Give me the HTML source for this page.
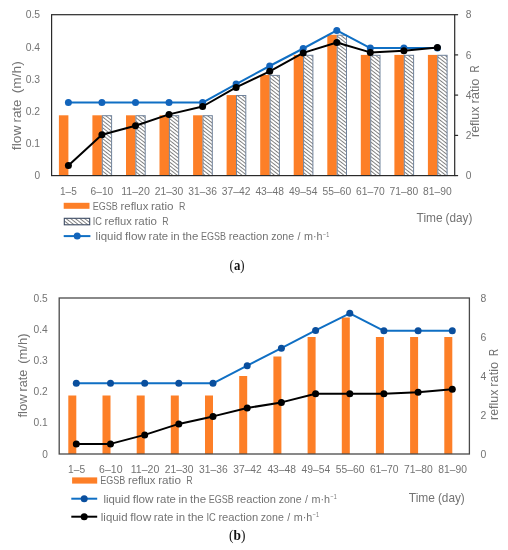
<!DOCTYPE html>
<html lang="en">
<head>
<meta charset="utf-8">
<title>Flow rate and reflux ratio charts</title>
<style>
html,body{margin:0;padding:0;background:#fff;}
body{width:508px;height:550px;overflow:hidden;font-family:"Liberation Sans",sans-serif;}
svg{display:block;}
</style>
</head>
<body>
<svg width="508" height="550" viewBox="0 0 508 550">
<defs>
<pattern id="hatch" width="2.85" height="2.85" patternUnits="userSpaceOnUse" patternTransform="rotate(38)">
<rect width="2.85" height="2.85" fill="#fff"/>
<rect width="2.85" height="0.7" fill="#505050"/>
</pattern>
</defs>
<rect width="508" height="550" fill="#fff"/>
<g id="chartA">
<rect x="58.9" y="115.3" width="9.5" height="60.3" fill="#fd7f27"/>
<rect x="92.4" y="115.3" width="9.5" height="60.3" fill="#fd7f27"/>
<rect x="102.3" y="115.7" width="9.3" height="59.9" fill="url(#hatch)" stroke="#71839c" stroke-width="1"/>
<rect x="126.0" y="115.3" width="9.5" height="60.3" fill="#fd7f27"/>
<rect x="135.9" y="115.7" width="9.3" height="59.9" fill="url(#hatch)" stroke="#71839c" stroke-width="1"/>
<rect x="159.5" y="115.3" width="9.5" height="60.3" fill="#fd7f27"/>
<rect x="169.4" y="115.7" width="9.3" height="59.9" fill="url(#hatch)" stroke="#71839c" stroke-width="1"/>
<rect x="193.1" y="115.3" width="9.5" height="60.3" fill="#fd7f27"/>
<rect x="203.0" y="115.7" width="9.3" height="59.9" fill="url(#hatch)" stroke="#71839c" stroke-width="1"/>
<rect x="226.6" y="95.1" width="9.5" height="80.5" fill="#fd7f27"/>
<rect x="236.5" y="95.5" width="9.3" height="80.0" fill="url(#hatch)" stroke="#71839c" stroke-width="1"/>
<rect x="260.2" y="75.0" width="9.5" height="100.6" fill="#fd7f27"/>
<rect x="270.1" y="75.4" width="9.3" height="100.2" fill="url(#hatch)" stroke="#71839c" stroke-width="1"/>
<rect x="293.7" y="54.9" width="9.5" height="120.7" fill="#fd7f27"/>
<rect x="303.6" y="55.3" width="9.3" height="120.3" fill="url(#hatch)" stroke="#71839c" stroke-width="1"/>
<rect x="327.3" y="34.8" width="9.5" height="140.8" fill="#fd7f27"/>
<rect x="337.2" y="35.2" width="9.3" height="140.4" fill="url(#hatch)" stroke="#71839c" stroke-width="1"/>
<rect x="360.8" y="54.9" width="9.5" height="120.7" fill="#fd7f27"/>
<rect x="370.7" y="55.3" width="9.3" height="120.3" fill="url(#hatch)" stroke="#71839c" stroke-width="1"/>
<rect x="394.4" y="54.9" width="9.5" height="120.7" fill="#fd7f27"/>
<rect x="404.3" y="55.3" width="9.3" height="120.3" fill="url(#hatch)" stroke="#71839c" stroke-width="1"/>
<rect x="427.9" y="54.9" width="9.5" height="120.7" fill="#fd7f27"/>
<rect x="437.8" y="55.3" width="9.3" height="120.3" fill="url(#hatch)" stroke="#71839c" stroke-width="1"/>
<rect x="51.6" y="14.7" width="403.1" height="160.9" fill="none" stroke="#2a2a2a" stroke-width="1.2"/>
<line x1="454.7" y1="135.4" x2="458.1" y2="135.4" stroke="#2a2a2a" stroke-width="1.2"/>
<line x1="454.7" y1="95.1" x2="458.1" y2="95.1" stroke="#2a2a2a" stroke-width="1.2"/>
<line x1="454.7" y1="54.9" x2="458.1" y2="54.9" stroke="#2a2a2a" stroke-width="1.2"/>
<line x1="454.7" y1="175.6" x2="458.1" y2="175.6" stroke="#2a2a2a" stroke-width="1.2"/>
<line x1="454.7" y1="14.7" x2="458.1" y2="14.7" stroke="#2a2a2a" stroke-width="1.2"/>
<polyline points="68.4,102.6 101.9,102.6 135.5,102.6 169.0,102.6 202.6,102.6 236.1,84.1 269.7,66.0 303.2,48.5 336.8,30.4 370.3,48.1 403.9,48.1 437.4,48.1" fill="none" stroke="#0f6fc4" stroke-width="2.0" stroke-linejoin="round"/>
<circle cx="68.4" cy="102.6" r="3.5" fill="#1264bb"/>
<circle cx="101.9" cy="102.6" r="3.5" fill="#1264bb"/>
<circle cx="135.5" cy="102.6" r="3.5" fill="#1264bb"/>
<circle cx="169.0" cy="102.6" r="3.5" fill="#1264bb"/>
<circle cx="202.6" cy="102.6" r="3.5" fill="#1264bb"/>
<circle cx="236.1" cy="84.1" r="3.5" fill="#1264bb"/>
<circle cx="269.7" cy="66.0" r="3.5" fill="#1264bb"/>
<circle cx="303.2" cy="48.5" r="3.5" fill="#1264bb"/>
<circle cx="336.8" cy="30.4" r="3.5" fill="#1264bb"/>
<circle cx="370.3" cy="48.1" r="3.5" fill="#1264bb"/>
<circle cx="403.9" cy="48.1" r="3.5" fill="#1264bb"/>
<circle cx="437.4" cy="48.1" r="3.5" fill="#1264bb"/>
<polyline points="68.4,165.4 101.9,134.8 135.5,125.7 169.0,114.4 202.6,106.5 236.1,87.4 269.7,71.3 303.2,52.9 336.8,42.5 370.3,52.4 403.9,50.8 437.4,47.5" fill="none" stroke="#000" stroke-width="2.0" stroke-linejoin="round"/>
<circle cx="68.4" cy="165.4" r="3.5" fill="#000"/>
<circle cx="101.9" cy="134.8" r="3.5" fill="#000"/>
<circle cx="135.5" cy="125.7" r="3.5" fill="#000"/>
<circle cx="169.0" cy="114.4" r="3.5" fill="#000"/>
<circle cx="202.6" cy="106.5" r="3.5" fill="#000"/>
<circle cx="236.1" cy="87.4" r="3.5" fill="#000"/>
<circle cx="269.7" cy="71.3" r="3.5" fill="#000"/>
<circle cx="303.2" cy="52.9" r="3.5" fill="#000"/>
<circle cx="336.8" cy="42.5" r="3.5" fill="#000"/>
<circle cx="370.3" cy="52.4" r="3.5" fill="#000"/>
<circle cx="403.9" cy="50.8" r="3.5" fill="#000"/>
<circle cx="437.4" cy="47.5" r="3.5" fill="#000"/>
<text x="40.1" y="179.2" font-size="10" fill="#737373" font-family='"Liberation Sans", sans-serif' text-anchor="end" textLength="5.6" lengthAdjust="spacingAndGlyphs">0</text>
<text x="40.1" y="147.0" font-size="10" fill="#737373" font-family='"Liberation Sans", sans-serif' text-anchor="end" textLength="14.4" lengthAdjust="spacingAndGlyphs">0.1</text>
<text x="40.1" y="114.8" font-size="10" fill="#737373" font-family='"Liberation Sans", sans-serif' text-anchor="end" textLength="14.4" lengthAdjust="spacingAndGlyphs">0.2</text>
<text x="40.1" y="82.7" font-size="10" fill="#737373" font-family='"Liberation Sans", sans-serif' text-anchor="end" textLength="14.4" lengthAdjust="spacingAndGlyphs">0.3</text>
<text x="40.1" y="50.5" font-size="10" fill="#737373" font-family='"Liberation Sans", sans-serif' text-anchor="end" textLength="14.4" lengthAdjust="spacingAndGlyphs">0.4</text>
<text x="40.1" y="18.3" font-size="10" fill="#737373" font-family='"Liberation Sans", sans-serif' text-anchor="end" textLength="14.4" lengthAdjust="spacingAndGlyphs">0.5</text>
<text x="465.8" y="179.2" font-size="10" fill="#737373" font-family='"Liberation Sans", sans-serif' textLength="5.7" lengthAdjust="spacingAndGlyphs">0</text>
<text x="465.8" y="139.0" font-size="10" fill="#737373" font-family='"Liberation Sans", sans-serif' textLength="5.7" lengthAdjust="spacingAndGlyphs">2</text>
<text x="465.8" y="98.7" font-size="10" fill="#737373" font-family='"Liberation Sans", sans-serif' textLength="5.7" lengthAdjust="spacingAndGlyphs">4</text>
<text x="465.8" y="58.5" font-size="10" fill="#737373" font-family='"Liberation Sans", sans-serif' textLength="5.7" lengthAdjust="spacingAndGlyphs">6</text>
<text x="465.8" y="18.3" font-size="10" fill="#737373" font-family='"Liberation Sans", sans-serif' textLength="5.7" lengthAdjust="spacingAndGlyphs">8</text>
<text x="68.4" y="194.6" font-size="10" fill="#737373" font-family='"Liberation Sans", sans-serif' text-anchor="middle" textLength="16.8" lengthAdjust="spacingAndGlyphs">1–5</text>
<text x="101.9" y="194.6" font-size="10" fill="#737373" font-family='"Liberation Sans", sans-serif' text-anchor="middle" textLength="22.7" lengthAdjust="spacingAndGlyphs">6–10</text>
<text x="135.5" y="194.6" font-size="10" fill="#737373" font-family='"Liberation Sans", sans-serif' text-anchor="middle" textLength="28.6" lengthAdjust="spacingAndGlyphs">11–20</text>
<text x="169.0" y="194.6" font-size="10" fill="#737373" font-family='"Liberation Sans", sans-serif' text-anchor="middle" textLength="28.6" lengthAdjust="spacingAndGlyphs">21–30</text>
<text x="202.6" y="194.6" font-size="10" fill="#737373" font-family='"Liberation Sans", sans-serif' text-anchor="middle" textLength="28.6" lengthAdjust="spacingAndGlyphs">31–36</text>
<text x="236.1" y="194.6" font-size="10" fill="#737373" font-family='"Liberation Sans", sans-serif' text-anchor="middle" textLength="28.6" lengthAdjust="spacingAndGlyphs">37–42</text>
<text x="269.7" y="194.6" font-size="10" fill="#737373" font-family='"Liberation Sans", sans-serif' text-anchor="middle" textLength="28.6" lengthAdjust="spacingAndGlyphs">43–48</text>
<text x="303.2" y="194.6" font-size="10" fill="#737373" font-family='"Liberation Sans", sans-serif' text-anchor="middle" textLength="28.6" lengthAdjust="spacingAndGlyphs">49–54</text>
<text x="336.8" y="194.6" font-size="10" fill="#737373" font-family='"Liberation Sans", sans-serif' text-anchor="middle" textLength="28.6" lengthAdjust="spacingAndGlyphs">55–60</text>
<text x="370.3" y="194.6" font-size="10" fill="#737373" font-family='"Liberation Sans", sans-serif' text-anchor="middle" textLength="28.6" lengthAdjust="spacingAndGlyphs">61–70</text>
<text x="403.9" y="194.6" font-size="10" fill="#737373" font-family='"Liberation Sans", sans-serif' text-anchor="middle" textLength="28.6" lengthAdjust="spacingAndGlyphs">71–80</text>
<text x="437.4" y="194.6" font-size="10" fill="#737373" font-family='"Liberation Sans", sans-serif' text-anchor="middle" textLength="28.6" lengthAdjust="spacingAndGlyphs">81–90</text>
<text transform="translate(21.2 150.2) rotate(-90)" font-size="12.4" fill="#737373" font-family='"Liberation Sans", sans-serif'><tspan x="0.0" textLength="24.6" lengthAdjust="spacingAndGlyphs">flow</tspan> <tspan x="27.7" textLength="23.0" lengthAdjust="spacingAndGlyphs">rate</tspan> <tspan x="56.9" textLength="32.1" lengthAdjust="spacingAndGlyphs">(m/h)</tspan></text>
<text transform="translate(478.8 137.0) rotate(-90)" font-size="12.4" fill="#737373" font-family='"Liberation Sans", sans-serif'><tspan x="0.0" textLength="30.5" lengthAdjust="spacingAndGlyphs">reflux</tspan> <tspan x="33.5" textLength="25.0" lengthAdjust="spacingAndGlyphs">ratio</tspan> <tspan x="64.4" textLength="7.1" lengthAdjust="spacingAndGlyphs">R</tspan></text>
<text transform="translate(416.6 221.7)" font-size="12.2" fill="#737373" font-family='"Liberation Sans", sans-serif'><tspan x="0.0" textLength="26.1" lengthAdjust="spacingAndGlyphs">Time</tspan> <tspan x="29.0" textLength="26.7" lengthAdjust="spacingAndGlyphs">(day)</tspan></text>
<rect x="63.7" y="202.8" width="25.8" height="6" fill="#fd7f27"/>
<text transform="translate(92.8 209.6)" font-size="10.6" fill="#737373" font-family='"Liberation Sans", sans-serif'><tspan x="0.0" textLength="25.1" lengthAdjust="spacingAndGlyphs">EGSB</tspan> <tspan x="27.8" textLength="27.7" lengthAdjust="spacingAndGlyphs">reflux</tspan> <tspan x="58.1" textLength="22.7" lengthAdjust="spacingAndGlyphs">ratio</tspan> <tspan x="86.2" textLength="6.4" lengthAdjust="spacingAndGlyphs">R</tspan></text>
<rect x="64.3" y="218.3" width="25.4" height="6.5" fill="url(#hatch)" stroke="#3d4b63" stroke-width="1.1"/>
<text transform="translate(92.8 225.2)" font-size="10.6" fill="#737373" font-family='"Liberation Sans", sans-serif'><tspan x="0.0" textLength="9.2" lengthAdjust="spacingAndGlyphs">IC</tspan> <tspan x="11.8" textLength="27.3" lengthAdjust="spacingAndGlyphs">reflux</tspan> <tspan x="41.7" textLength="22.4" lengthAdjust="spacingAndGlyphs">ratio</tspan> <tspan x="69.4" textLength="6.3" lengthAdjust="spacingAndGlyphs">R</tspan></text>
<line x1="63.7" y1="236.1" x2="90.4" y2="236.1" stroke="#0f6fc4" stroke-width="2"/><circle cx="77.2" cy="236.1" r="3.5" fill="#1264bb"/>
<text transform="translate(95.6 240.2)" font-size="10.6" fill="#737373" font-family='"Liberation Sans", sans-serif'><tspan x="0.0" textLength="26.7" lengthAdjust="spacingAndGlyphs">liquid</tspan> <tspan x="29.4" textLength="21.0" lengthAdjust="spacingAndGlyphs">flow</tspan> <tspan x="53.0" textLength="19.6" lengthAdjust="spacingAndGlyphs">rate</tspan> <tspan x="75.2" textLength="8.9" lengthAdjust="spacingAndGlyphs">in</tspan> <tspan x="86.8" textLength="16.0" lengthAdjust="spacingAndGlyphs">the</tspan> <tspan x="105.5" textLength="25.0" lengthAdjust="spacingAndGlyphs">EGSB</tspan> <tspan x="133.2" textLength="39.7" lengthAdjust="spacingAndGlyphs">reaction</tspan> <tspan x="175.6" textLength="22.9" lengthAdjust="spacingAndGlyphs">zone</tspan> <tspan x="202.0">/</tspan> <tspan x="208.4" textLength="18.6" lengthAdjust="spacingAndGlyphs">m·h</tspan><tspan x="227.5" dy="-3.6" font-size="6.5" textLength="6.2" lengthAdjust="spacingAndGlyphs">−1</tspan></text>
<text x="229.6" y="269.5" font-size="14" fill="#111" font-family='"Liberation Serif", serif' textLength="15" lengthAdjust="spacingAndGlyphs">(<tspan font-weight="bold">a</tspan>)</text>
</g>
<g id="chartB">
<rect x="68.3" y="395.5" width="8.0" height="58.5" fill="#fd7f27"/>
<rect x="102.5" y="395.5" width="8.0" height="58.5" fill="#fd7f27"/>
<rect x="136.7" y="395.5" width="8.0" height="58.5" fill="#fd7f27"/>
<rect x="170.8" y="395.5" width="8.0" height="58.5" fill="#fd7f27"/>
<rect x="205.0" y="395.5" width="8.0" height="58.5" fill="#fd7f27"/>
<rect x="239.2" y="376.0" width="8.0" height="78.0" fill="#fd7f27"/>
<rect x="273.4" y="356.5" width="8.0" height="97.5" fill="#fd7f27"/>
<rect x="307.6" y="337.0" width="8.0" height="117.0" fill="#fd7f27"/>
<rect x="341.8" y="317.5" width="8.0" height="136.5" fill="#fd7f27"/>
<rect x="375.9" y="337.0" width="8.0" height="117.0" fill="#fd7f27"/>
<rect x="410.1" y="337.0" width="8.0" height="117.0" fill="#fd7f27"/>
<rect x="444.3" y="337.0" width="8.0" height="117.0" fill="#fd7f27"/>
<rect x="59.2" y="298.0" width="410.2" height="156.0" fill="none" stroke="#4a4a4a" stroke-width="1.3"/>
<polyline points="76.3,383.3 110.5,383.3 144.7,383.3 178.8,383.3 213.0,383.3 247.2,365.7 281.4,348.2 315.6,330.4 349.8,313.3 383.9,330.8 418.1,330.8 452.3,330.8" fill="none" stroke="#0f6fc4" stroke-width="2.0" stroke-linejoin="round"/>
<circle cx="76.3" cy="383.3" r="3.5" fill="#0a4f9e"/>
<circle cx="110.5" cy="383.3" r="3.5" fill="#0a4f9e"/>
<circle cx="144.7" cy="383.3" r="3.5" fill="#0a4f9e"/>
<circle cx="178.8" cy="383.3" r="3.5" fill="#0a4f9e"/>
<circle cx="213.0" cy="383.3" r="3.5" fill="#0a4f9e"/>
<circle cx="247.2" cy="365.7" r="3.5" fill="#0a4f9e"/>
<circle cx="281.4" cy="348.2" r="3.5" fill="#0a4f9e"/>
<circle cx="315.6" cy="330.4" r="3.5" fill="#0a4f9e"/>
<circle cx="349.8" cy="313.3" r="3.5" fill="#0a4f9e"/>
<circle cx="383.9" cy="330.8" r="3.5" fill="#0a4f9e"/>
<circle cx="418.1" cy="330.8" r="3.5" fill="#0a4f9e"/>
<circle cx="452.3" cy="330.8" r="3.5" fill="#0a4f9e"/>
<polyline points="76.3,443.9 110.5,443.9 144.7,434.9 178.8,423.9 213.0,416.4 247.2,408.0 281.4,402.4 315.6,393.8 349.8,393.8 383.9,393.8 418.1,392.2 452.3,389.2" fill="none" stroke="#000" stroke-width="2.0" stroke-linejoin="round"/>
<circle cx="76.3" cy="443.9" r="3.5" fill="#000"/>
<circle cx="110.5" cy="443.9" r="3.5" fill="#000"/>
<circle cx="144.7" cy="434.9" r="3.5" fill="#000"/>
<circle cx="178.8" cy="423.9" r="3.5" fill="#000"/>
<circle cx="213.0" cy="416.4" r="3.5" fill="#000"/>
<circle cx="247.2" cy="408.0" r="3.5" fill="#000"/>
<circle cx="281.4" cy="402.4" r="3.5" fill="#000"/>
<circle cx="315.6" cy="393.8" r="3.5" fill="#000"/>
<circle cx="349.8" cy="393.8" r="3.5" fill="#000"/>
<circle cx="383.9" cy="393.8" r="3.5" fill="#000"/>
<circle cx="418.1" cy="392.2" r="3.5" fill="#000"/>
<circle cx="452.3" cy="389.2" r="3.5" fill="#000"/>
<text x="47.8" y="457.6" font-size="10" fill="#737373" font-family='"Liberation Sans", sans-serif' text-anchor="end" textLength="5.6" lengthAdjust="spacingAndGlyphs">0</text>
<text x="47.8" y="426.4" font-size="10" fill="#737373" font-family='"Liberation Sans", sans-serif' text-anchor="end" textLength="14.2" lengthAdjust="spacingAndGlyphs">0.1</text>
<text x="47.8" y="395.2" font-size="10" fill="#737373" font-family='"Liberation Sans", sans-serif' text-anchor="end" textLength="14.2" lengthAdjust="spacingAndGlyphs">0.2</text>
<text x="47.8" y="364.0" font-size="10" fill="#737373" font-family='"Liberation Sans", sans-serif' text-anchor="end" textLength="14.2" lengthAdjust="spacingAndGlyphs">0.3</text>
<text x="47.8" y="332.8" font-size="10" fill="#737373" font-family='"Liberation Sans", sans-serif' text-anchor="end" textLength="14.2" lengthAdjust="spacingAndGlyphs">0.4</text>
<text x="47.8" y="301.6" font-size="10" fill="#737373" font-family='"Liberation Sans", sans-serif' text-anchor="end" textLength="14.2" lengthAdjust="spacingAndGlyphs">0.5</text>
<text x="480.4" y="457.6" font-size="10" fill="#737373" font-family='"Liberation Sans", sans-serif' textLength="5.8" lengthAdjust="spacingAndGlyphs">0</text>
<text x="480.4" y="418.6" font-size="10" fill="#737373" font-family='"Liberation Sans", sans-serif' textLength="5.8" lengthAdjust="spacingAndGlyphs">2</text>
<text x="480.4" y="379.6" font-size="10" fill="#737373" font-family='"Liberation Sans", sans-serif' textLength="5.8" lengthAdjust="spacingAndGlyphs">4</text>
<text x="480.4" y="340.6" font-size="10" fill="#737373" font-family='"Liberation Sans", sans-serif' textLength="5.8" lengthAdjust="spacingAndGlyphs">6</text>
<text x="480.4" y="301.6" font-size="10" fill="#737373" font-family='"Liberation Sans", sans-serif' textLength="5.8" lengthAdjust="spacingAndGlyphs">8</text>
<text x="76.6" y="472.7" font-size="10" fill="#737373" font-family='"Liberation Sans", sans-serif' text-anchor="middle" textLength="17.0" lengthAdjust="spacingAndGlyphs">1–5</text>
<text x="110.8" y="472.7" font-size="10" fill="#737373" font-family='"Liberation Sans", sans-serif' text-anchor="middle" textLength="23.4" lengthAdjust="spacingAndGlyphs">6–10</text>
<text x="145.0" y="472.7" font-size="10" fill="#737373" font-family='"Liberation Sans", sans-serif' text-anchor="middle" textLength="28.6" lengthAdjust="spacingAndGlyphs">11–20</text>
<text x="179.1" y="472.7" font-size="10" fill="#737373" font-family='"Liberation Sans", sans-serif' text-anchor="middle" textLength="28.6" lengthAdjust="spacingAndGlyphs">21–30</text>
<text x="213.3" y="472.7" font-size="10" fill="#737373" font-family='"Liberation Sans", sans-serif' text-anchor="middle" textLength="28.6" lengthAdjust="spacingAndGlyphs">31–36</text>
<text x="247.5" y="472.7" font-size="10" fill="#737373" font-family='"Liberation Sans", sans-serif' text-anchor="middle" textLength="28.6" lengthAdjust="spacingAndGlyphs">37–42</text>
<text x="281.7" y="472.7" font-size="10" fill="#737373" font-family='"Liberation Sans", sans-serif' text-anchor="middle" textLength="28.6" lengthAdjust="spacingAndGlyphs">43–48</text>
<text x="315.9" y="472.7" font-size="10" fill="#737373" font-family='"Liberation Sans", sans-serif' text-anchor="middle" textLength="28.6" lengthAdjust="spacingAndGlyphs">49–54</text>
<text x="350.1" y="472.7" font-size="10" fill="#737373" font-family='"Liberation Sans", sans-serif' text-anchor="middle" textLength="28.6" lengthAdjust="spacingAndGlyphs">55–60</text>
<text x="384.2" y="472.7" font-size="10" fill="#737373" font-family='"Liberation Sans", sans-serif' text-anchor="middle" textLength="28.6" lengthAdjust="spacingAndGlyphs">61–70</text>
<text x="418.4" y="472.7" font-size="10" fill="#737373" font-family='"Liberation Sans", sans-serif' text-anchor="middle" textLength="28.6" lengthAdjust="spacingAndGlyphs">71–80</text>
<text x="452.6" y="472.7" font-size="10" fill="#737373" font-family='"Liberation Sans", sans-serif' text-anchor="middle" textLength="28.6" lengthAdjust="spacingAndGlyphs">81–90</text>
<text transform="translate(26.6 417.5) rotate(-90)" font-size="12.2" fill="#737373" font-family='"Liberation Sans", sans-serif'><tspan x="0.0" textLength="23.2" lengthAdjust="spacingAndGlyphs">flow</tspan> <tspan x="26.1" textLength="21.7" lengthAdjust="spacingAndGlyphs">rate</tspan> <tspan x="53.7" textLength="30.3" lengthAdjust="spacingAndGlyphs">(m/h)</tspan></text>
<text transform="translate(498.0 420.0) rotate(-90)" font-size="12.4" fill="#737373" font-family='"Liberation Sans", sans-serif'><tspan x="0.0" textLength="30.4" lengthAdjust="spacingAndGlyphs">reflux</tspan> <tspan x="33.3" textLength="24.9" lengthAdjust="spacingAndGlyphs">ratio</tspan> <tspan x="64.1" textLength="7.1" lengthAdjust="spacingAndGlyphs">R</tspan></text>
<text transform="translate(408.8 501.5)" font-size="12.2" fill="#737373" font-family='"Liberation Sans", sans-serif'><tspan x="0.0" textLength="26.2" lengthAdjust="spacingAndGlyphs">Time</tspan> <tspan x="29.1" textLength="26.9" lengthAdjust="spacingAndGlyphs">(day)</tspan></text>
<rect x="72.1" y="477.4" width="25.1" height="6.2" fill="#fd7f27"/>
<text transform="translate(100.2 484.4)" font-size="10.6" fill="#737373" font-family='"Liberation Sans", sans-serif'><tspan x="0.0" textLength="25.1" lengthAdjust="spacingAndGlyphs">EGSB</tspan> <tspan x="27.7" textLength="27.6" lengthAdjust="spacingAndGlyphs">reflux</tspan> <tspan x="58.0" textLength="22.7" lengthAdjust="spacingAndGlyphs">ratio</tspan> <tspan x="86.0" textLength="6.4" lengthAdjust="spacingAndGlyphs">R</tspan></text>
<line x1="71.3" y1="498.7" x2="97.2" y2="498.7" stroke="#0f6fc4" stroke-width="2"/><circle cx="84.2" cy="498.7" r="3.5" fill="#0a4f9e"/>
<text transform="translate(103.4 503.0)" font-size="10.6" fill="#737373" font-family='"Liberation Sans", sans-serif'><tspan x="0.0" textLength="26.6" lengthAdjust="spacingAndGlyphs">liquid</tspan> <tspan x="29.3" textLength="20.9" lengthAdjust="spacingAndGlyphs">flow</tspan> <tspan x="52.9" textLength="19.6" lengthAdjust="spacingAndGlyphs">rate</tspan> <tspan x="75.1" textLength="8.9" lengthAdjust="spacingAndGlyphs">in</tspan> <tspan x="86.7" textLength="16.0" lengthAdjust="spacingAndGlyphs">the</tspan> <tspan x="105.3" textLength="25.0" lengthAdjust="spacingAndGlyphs">EGSB</tspan> <tspan x="133.0" textLength="39.6" lengthAdjust="spacingAndGlyphs">reaction</tspan> <tspan x="175.3" textLength="22.9" lengthAdjust="spacingAndGlyphs">zone</tspan> <tspan x="201.6">/</tspan> <tspan x="208.0" textLength="18.6" lengthAdjust="spacingAndGlyphs">m·h</tspan><tspan x="227.1" dy="-3.6" font-size="6.5" textLength="6.2" lengthAdjust="spacingAndGlyphs">−1</tspan></text>
<line x1="71.3" y1="516.7" x2="97.2" y2="516.7" stroke="#000" stroke-width="2"/><circle cx="84.2" cy="516.7" r="3.5" fill="#000"/>
<text transform="translate(100.8 521.0)" font-size="10.6" fill="#737373" font-family='"Liberation Sans", sans-serif'><tspan x="0.0" textLength="26.7" lengthAdjust="spacingAndGlyphs">liquid</tspan> <tspan x="29.4" textLength="21.0" lengthAdjust="spacingAndGlyphs">flow</tspan> <tspan x="53.0" textLength="19.6" lengthAdjust="spacingAndGlyphs">rate</tspan> <tspan x="75.3" textLength="8.9" lengthAdjust="spacingAndGlyphs">in</tspan> <tspan x="86.9" textLength="16.0" lengthAdjust="spacingAndGlyphs">the</tspan> <tspan x="105.6" textLength="9.3" lengthAdjust="spacingAndGlyphs">IC</tspan> <tspan x="117.6" textLength="39.8" lengthAdjust="spacingAndGlyphs">reaction</tspan> <tspan x="160.0" textLength="23.0" lengthAdjust="spacingAndGlyphs">zone</tspan> <tspan x="186.5">/</tspan> <tspan x="192.9" textLength="18.6" lengthAdjust="spacingAndGlyphs">m·h</tspan><tspan x="212.0" dy="-3.6" font-size="6.5" textLength="6.2" lengthAdjust="spacingAndGlyphs">−1</tspan></text>
<text x="229" y="539.5" font-size="14" fill="#111" font-family='"Liberation Serif", serif' textLength="16.4" lengthAdjust="spacingAndGlyphs">(<tspan font-weight="bold">b</tspan>)</text>
</g>
</svg>
</body>
</html>
